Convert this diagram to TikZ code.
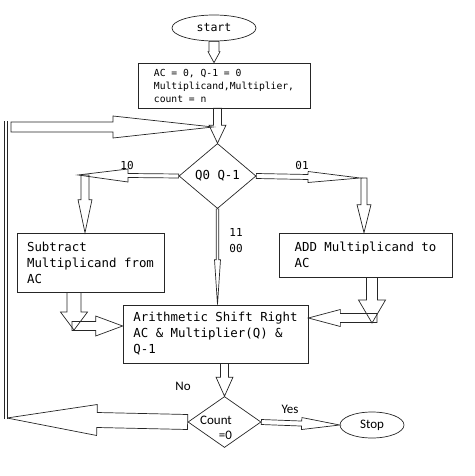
\documentclass[tikz,border=0pt]{standalone}
\usepackage{fontspec}
\setmonofont{DejaVu Sans Mono}
\setsansfont{Carlito}
\usetikzlibrary{shapes.geometric, calc}

\tikzset{
  ink/.style={draw=black!85, line width=0.7pt},
  flowbox/.style={ink, rectangle, align=left, inner sep=0pt,
    font=\ttfamily\fontsize{12.4}{16}\selectfont},
  decision/.style={ink, diamond, inner sep=0pt,
    font=\ttfamily\fontsize{12.4}{16}\selectfont},
  ovalnode/.style={ink, ellipse, inner sep=0pt},
  codelabel/.style={inner sep=0pt, font=\ttfamily\fontsize{11}{16}\selectfont},
  sanslabel/.style={inner sep=0pt, font=\sffamily\fontsize{13}{15}\selectfont},
  blockline/.style={ink, line join=miter},
  loopline/.style={draw=black!85, line width=0.6pt, double, double distance=2.4pt}
}

% hollow block arrow: from, to, half shaft, half head, head length
\newcommand{\blockarrow}[5]{%
  \coordinate (bahead) at ($(#2)!#5!(#1)$);
  \draw[blockline] ($(#1)!#3!90:(#2)$) -- ($(bahead)!#3!-90:(#1)$)
    -- ($(bahead)!#4!-90:(#1)$) -- (#2) -- ($(bahead)!#4!90:(#1)$)
    -- ($(bahead)!#3!90:(#1)$) -- ($(#1)!#3!-90:(#2)$) -- cycle;
}

\begin{document}
\begin{tikzpicture}[x=1pt, y=-1pt]
  \useasboundingbox (0,0) rectangle (474,476);

  % nodes
  \node[ovalnode, minimum width=84pt, minimum height=26pt,
    font=\ttfamily\fontsize{11.6}{14}\selectfont] (start) at (214,28) {start};
  \node[flowbox, minimum width=172pt, minimum height=45pt,
    font=\ttfamily\fontsize{9.7}{13}\selectfont] (init) at (224,85.5)
    {AC = 0, Q-1 = 0\\Multiplicand,Multiplier,\\count = n};
  \node[decision, minimum width=77pt, minimum height=65pt] (q) at (217.5,176) {Q0 Q-1};
  \node[flowbox, minimum width=147pt, minimum height=59pt] (sub) at (90.5,262.5)
    {Subtract\\Multiplicand from\\AC};
  \node[flowbox, minimum width=173pt, minimum height=44pt] (add) at (365.5,255)
    {ADD Multiplicand to\\AC};
  \node[flowbox, minimum width=185pt, minimum height=58pt] (shift) at (215.5,334)
    {Arithmetic Shift Right\\AC \& Multiplier(Q) \&\\Q-1};
  \node[decision, minimum width=73pt, minimum height=51pt] (count) at (224.5,422) {};
  \node[sanslabel, align=right] (counttxt) at (216,428) {Count\\=0};
  \node[ovalnode, minimum width=64pt, minimum height=26pt,
    font=\sffamily\fontsize{13}{15}\selectfont] (stop) at (372,425) {Stop};

  % labels
  \node[codelabel] (lab10) at (127,165) {10};
  \node[codelabel] (lab01) at (302,165) {01};
  \node[codelabel, align=left] (lab11) at (236,241) {11\\00};
  \node[sanslabel] (labno) at (183,386) {No};
  \node[sanslabel] (labyes) at (290,409) {Yes};

  % connectors
  \coordinate (s1) at (start.south);
  \coordinate (s2) at (start.south |- init.north);
  \blockarrow{s1}{s2}{5pt}{6pt}{11pt}
  \coordinate (i1) at (q.north |- init.south);
  \blockarrow{i1}{q.north}{4pt}{8.5pt}{18pt}

  \coordinate (l10) at (78,175);
  \blockarrow{q.west}{l10}{2pt}{6.5pt}{50pt}
  \coordinate (l10d) at (85,175);
  \coordinate (l10e) at (l10d |- sub.north);
  \blockarrow{l10d}{l10e}{4pt}{7pt}{33pt}

  \coordinate (r01) at (360,178);
  \blockarrow{q.east}{r01}{2.5pt}{5.5pt}{52pt}
  \coordinate (r01d) at (364,178);
  \coordinate (r01e) at (r01d |- add.north);
  \blockarrow{r01d}{r01e}{3pt}{7pt}{28pt}

  \coordinate (m2) at (q.south |- shift.north);
  \blockarrow{q.south}{m2}{1.2pt}{3pt}{45pt}

  \coordinate (sd1) at ($(sub.south)+(-16.5,0)$);
  \coordinate (sd2) at (74,330);
  \blockarrow{sd1}{sd2}{7pt}{13.5pt}{18pt}
  \coordinate (sr1) at (72,326);
  \coordinate (sr2) at (sr1 -| shift.west);
  \blockarrow{sr1}{sr2}{4.5pt}{10pt}{27pt}

  \coordinate (ad1) at ($(add.south)+(6.5,0)$);
  \coordinate (ad2) at (372,323);
  \blockarrow{ad1}{ad2}{5.5pt}{13.5pt}{23pt}
  \coordinate (ar1) at (377,318);
  \coordinate (ar2) at (ar1 -| shift.east);
  \blockarrow{ar1}{ar2}{4.5pt}{8.5pt}{32pt}

  \coordinate (c1) at (count.north |- shift.south);
  \blockarrow{c1}{count.north}{4pt}{8.5pt}{19pt}
  \blockarrow{count.east}{stop.west}{2.5pt}{6pt}{38pt}

  % loop back
  \coordinate (lb) at (7,418);
  \blockarrow{count.west}{lb}{7.5pt}{15.5pt}{90pt}
  \coordinate (lv1) at (6,419);
  \coordinate (lv2) at (6,121);
  \draw[loopline] (lv1) -- (lv2);
  \coordinate (lin) at (11,127);
  \coordinate (lend) at (213,127);
  \blockarrow{lin}{lend}{5pt}{11pt}{100pt}
\end{tikzpicture}
\end{document}
